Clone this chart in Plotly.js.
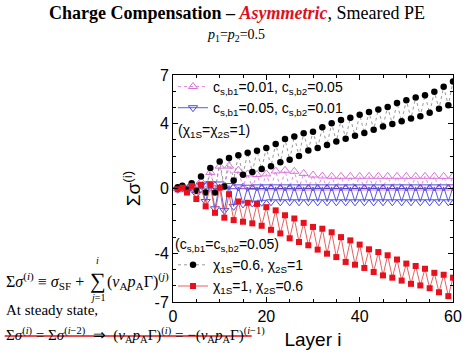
<!DOCTYPE html>
<html><head><meta charset="utf-8">
<script src="https://cdn.plot.ly/plotly-3.0.1.min.js"></script>
<style>html,body{margin:0;padding:0;background:#fff}#chart{width:474px;height:355px}</style>
</head><body><div id="chart"></div>
<script>
const layers = [1,2,3,4,5,6,7,8,9,10,11,12,13,14,15,16,17,18,19,20,21,22,23,24,25,26,27,28,29,30,
  31,32,33,34,35,36,37,38,39,40,41,42,43,44,45,46,47,48,49,50,51,52,53,54,55,56,57,58,59,60];

// chi1S=0.6, chi2S=1 (cs,b1=cs,b2=0.05)
const chiA = [0.08,0.17,-0.08,0.33,-0.14,0.74,-0.25,1.26,-0.25,1.67,0.12,1.88,0.5,2.05,0.85,2.2,1.02,2.33,1.2,2.5,
  1.37,2.75,1.62,3.05,1.78,3.2,2.0,3.4,2.35,3.5,2.5,3.77,2.68,4.02,2.9,4.23,3.07,4.36,3.25,4.55,
  3.42,4.72,3.62,4.87,3.83,5.03,3.98,5.27,4.15,5.44,4.32,5.61,4.46,5.75,4.67,5.96,4.92,6.27,5.13,6.6];
// chi1S=1, chi2S=0.6
const chiB = [-0.05,0.05,-0.25,0.15,-0.65,0.22,-1.1,0.22,-1.5,0.05,-1.8,-0.35,-1.95,-0.8,-2.05,-0.88,-2.15,-0.95,-2.3,-1.15,
  -2.55,-1.35,-2.77,-1.65,-3.07,-1.85,-3.3,-2.12,-3.5,-2.37,-3.77,-2.48,-4.02,-2.7,-4.23,-3.0,-4.53,-3.2,-4.7,-3.46,
  -4.9,-3.75,-5.15,-3.92,-5.36,-4.12,-5.5,-4.38,-5.68,-4.63,-5.88,-4.78,-5.98,-4.95,-6.15,-5.2,-6.4,-5.32,-6.64,-5.5];
// cs,b1=0.01, cs,b2=0.05 (chi1S=chi2S=1)
const csA = [0.0,0.05,-0.08,0.15,-0.12,0.45,-0.1,0.99,-0.02,1.38,0.05,1.38,0.1,1.12,0.1,0.9,0.06,0.86,0.04,0.9,
  0.04,1.08,0.04,1.12,0.04,1.06,0.03,0.93,0.03,0.83,0.03,0.77,0.03,0.75,0.03,0.75,0.03,0.75,0.03,0.75,
  0.03,0.75,0.03,0.75,0.03,0.75,0.03,0.75,0.03,0.75,0.03,0.75,0.03,0.75,0.03,0.75,0.03,0.75,0.03,0.75];
// cs,b1=0.05, cs,b2=0.01
const csB = [-0.05,0.03,-0.15,0.1,-0.35,0.2,-0.8,0.3,-1.25,0.28,-1.35,0.18,-1.1,0.1,-0.95,0.08,-0.9,0.1,-0.85,0.1,
  -0.82,0.1,-0.82,0.1,-0.82,0.1,-0.82,0.1,-0.82,0.1,-0.82,0.1,-0.82,0.1,-0.82,0.1,-0.82,0.1,-0.82,0.1,
  -0.82,0.1,-0.82,0.1,-0.82,0.1,-0.82,0.1,-0.82,0.1,-0.82,0.1,-0.82,0.1,-0.82,0.1,-0.82,0.1,-0.82,0.1];

const yTicks = [-7,-4,0,4,7];
const xTicks = [0,20,40,60];

const sans = 'Liberation Sans, Arial, sans-serif';
const serif = 'Liberation Serif, Times New Roman, serif';

const traces = [
  {x: layers, y: csA, mode: 'lines+markers', name: 'c<sub>s,b1</sub>=0.01, c<sub>s,b2</sub>=0.05',
   line: {color: '#e58ae5', width: 1, dash: 'dot'},
   marker: {symbol: 'triangle-up-open', size: 8, color: '#d873d8', line: {width: 1}}, legend: 'legend'},
  {x: layers, y: csB, mode: 'lines+markers', name: 'c<sub>s,b1</sub>=0.05, c<sub>s,b2</sub>=0.01',
   line: {color: '#5a5ae0', width: 1},
   marker: {symbol: 'triangle-down-open', size: 8, color: '#4b4bdc', line: {width: 1}}, legend: 'legend'},
  {x: layers, y: chiA, mode: 'lines+markers', name: '\u03c7<sub>1S</sub>=0.6, \u03c7<sub>2S</sub>=1',
   line: {color: '#9a9a9a', width: 1, dash: 'dot'},
   marker: {symbol: 'circle', size: 6.5, color: '#000000'}, legend: 'legend2'},
  {x: layers, y: chiB, mode: 'lines+markers', name: '\u03c7<sub>1S</sub>=1, \u03c7<sub>2S</sub>=0.6',
   line: {color: '#e86060', width: 1},
   marker: {symbol: 'square', size: 6, color: '#e8101c'}, legend: 'legend2'}
];

const toPX = px => (px - 173.3) / 280;
const toPY = py => (302 - py) / 226.7;

const layout = {
  width: 474, height: 355,
  margin: {l: 173, r: 21, t: 75, b: 53},
  paper_bgcolor: '#fff', plot_bgcolor: '#fff',
  showlegend: true,
  title: {
    text: '<b>Charge Compensation \u2013 </b><b><i><span style="color:#e0101a">Asymmetric</span></i></b>, Smeared PE',
    font: {family: serif, size: 18, color: '#000'},
    x: 0.5, xref: 'container', xanchor: 'center', y: 0.963, yref: 'container', yanchor: 'middle'
  },
  xaxis: {
    range: [0, 60], tickmode: 'array', tickvals: xTicks, ticktext: xTicks.map(String),
    ticks: 'inside', ticklen: 5, tickcolor: '#000', showline: true, linecolor: '#000', linewidth: 1,
    mirror: 'ticks', showgrid: false, zeroline: false,
    minor: {dtick: 5, tick0: 0, ticks: 'inside', ticklen: 3, tickcolor: '#000', showgrid: false},
    tickfont: {family: sans, size: 16, color: '#000'},
    title: {text: 'Layer i', font: {family: sans, size: 19, color: '#000'}, standoff: 8}
  },
  yaxis: {
    range: [-7, 7], tickmode: 'array', tickvals: yTicks, ticktext: yTicks.map(String),
    ticks: 'inside', ticklen: 5, tickcolor: '#000', showline: true, linecolor: '#000', linewidth: 1,
    mirror: 'ticks', showgrid: false,
    zeroline: true, zerolinecolor: '#4848a8', zerolinewidth: 1.5,
    minor: {dtick: 1, tick0: 0, ticks: 'inside', ticklen: 3, tickcolor: '#000', showgrid: false},
    tickfont: {family: sans, size: 16, color: '#000'},
    title: {text: '\u03a3\u03c3<sup>(i)</sup>', font: {family: sans, size: 19, color: '#000'}, standoff: 8}
  },
  legend: {
    x: 0, y: 1.018, xanchor: 'left', yanchor: 'top', bgcolor: 'rgba(0,0,0,0)',
    font: {family: sans, size: 14, color: '#000'}, tracegroupgap: 0, itemwidth: 30
  },
  legend2: {
    x: 0, y: 0, xanchor: 'left', yanchor: 'bottom', bgcolor: 'rgba(0,0,0,0)',
    font: {family: sans, size: 14, color: '#000'}, tracegroupgap: 0, itemwidth: 30,
    title: {text: '(c<sub>s,b1</sub>=c<sub>s,b2</sub>=0.05)', font: {family: sans, size: 14, color: '#000'}, side: 'top'}
  },
  annotations: [
    {text: '(\u03c7<sub>1S</sub>=\u03c7<sub>2S</sub>=1)', xref: 'paper', yref: 'paper', x: toPX(176), y: toPY(131.7),
     xanchor: 'left', yanchor: 'middle', showarrow: false, font: {family: sans, size: 14, color: '#000'}},
    {text: '<i>p</i><sub>1</sub>=<i>p</i><sub>2</sub>=0.5', xref: 'paper', yref: 'paper', x: toPX(236), y: toPY(36),
     xanchor: 'center', yanchor: 'middle', showarrow: false, font: {family: serif, size: 14, color: '#000'}},
    {text: '\u03a3<i>\u03c3</i><sup>(<i>i</i>)</sup> \u2261 <i>\u03c3</i><sub>SF</sub> +', xref: 'paper', yref: 'paper',
     x: toPX(4), y: toPY(281), xanchor: 'left', yanchor: 'middle', showarrow: false, font: {family: serif, size: 16, color: '#000'}},
    {text: '\u2211', xref: 'paper', yref: 'paper', x: toPX(98), y: toPY(281), xanchor: 'center', yanchor: 'middle',
     showarrow: false, font: {family: serif, size: 22, color: '#000'}},
    {text: '<i>i</i>', xref: 'paper', yref: 'paper', x: toPX(98), y: toPY(261), xanchor: 'center', yanchor: 'middle',
     showarrow: false, font: {family: serif, size: 10, color: '#000'}},
    {text: '<i>j</i>=1', xref: 'paper', yref: 'paper', x: toPX(98), y: toPY(298), xanchor: 'center', yanchor: 'middle',
     showarrow: false, font: {family: serif, size: 10, color: '#000'}},
    {text: '(<i>v</i><sub>A</sub><i>p</i><sub>A</sub>\u0393)<sup>(<i>j</i>)</sup>', xref: 'paper', yref: 'paper',
     x: toPX(105), y: toPY(281), xanchor: 'left', yanchor: 'middle', showarrow: false, font: {family: serif, size: 16, color: '#000'}},
    {text: 'At steady state,', xref: 'paper', yref: 'paper', x: toPX(4), y: toPY(310), xanchor: 'left', yanchor: 'middle',
     showarrow: false, font: {family: serif, size: 15, color: '#000'}},
    {text: '\u03a3<i>\u03c3</i><sup>(<i>i</i>)</sup> = \u03a3<i>\u03c3</i><sup>(<i>i</i>\u22122)</sup>  \u21d2  (<i>v</i><sub>A</sub><i>p</i><sub>A</sub>\u0393)<sup>(<i>i</i>)</sup> = \u2212(<i>v</i><sub>A</sub><i>p</i><sub>A</sub>\u0393)<sup>(<i>i</i>\u22121)</sup>',
     xref: 'paper', yref: 'paper', x: toPX(4), y: toPY(335), xanchor: 'left', yanchor: 'middle', showarrow: false,
     font: {family: serif, size: 15, color: '#000'}}
  ],
  shapes: [
    {type: 'line', xref: 'paper', yref: 'paper', x0: toPX(5), x1: toPX(252), y0: toPY(336), y1: toPY(336),
     line: {color: '#e01010', width: 1.5}}
  ]
};

Plotly.newPlot('chart', traces, layout, {displayModeBar: false, staticPlot: true});
</script>
</body></html>
